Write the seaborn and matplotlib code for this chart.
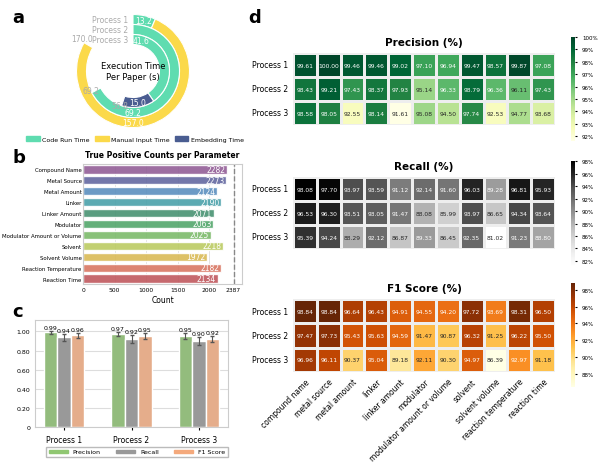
import numpy as np
import pandas as pd
import matplotlib
matplotlib.use("Agg")
import matplotlib.pyplot as plt
import seaborn as sns
from matplotlib.ticker import FuncFormatter
from matplotlib.patches import Patch

processes = ["Process 1", "Process 2", "Process 3"]
code_run = [13.2, 69.2, 41.6]
manual_input = [157.0, 0.0, 0.0]
embedding = [0.0, 0.0, 15.0]
totals = [170.0, 69.2, 56.8]

params_b = ["Compound Name", "Metal Source", "Metal Amount", "Linker", "Linker Amount", "Modulator",
            "Modulator Amount or Volume", "Solvent", "Solvent Volume", "Reaction Temperature", "Reaction Time"]
tp_counts = [2282, 2273, 2124, 2190, 2071, 2063, 2025, 2218, 1972, 2182, 2134]
tp_total = 2387
bar_colors = ["#9b55a0", "#5a5fab", "#4b8fd0", "#3aaeba", "#3c9f74", "#45b467", "#74c85e",
              "#c8dc52", "#f0c640", "#ec6a50", "#d1484f"]

metrics = ["Precision", "Recall", "F1 Score"]
metric_means = {"Precision": [0.99, 0.97, 0.95], "Recall": [0.94, 0.92, 0.90], "F1 Score": [0.96, 0.95, 0.92]}
metric_err = {"Precision": [0.015, 0.02, 0.03], "Recall": [0.035, 0.04, 0.045], "F1 Score": [0.025, 0.03, 0.035]}

params_d = ["compound name", "metal source", "metal amount", "linker", "linker amount", "modulator",
            "modulator amount or volume", "solvent", "solvent volume", "reaction temperature", "reaction time"]
precision = [[99.61, 100.00, 99.46, 99.46, 99.02, 97.10, 96.94, 99.47, 98.57, 99.87, 97.08],
             [98.43, 99.21, 97.43, 98.37, 97.93, 95.14, 96.33, 98.79, 96.36, 96.11, 97.43],
             [98.58, 98.05, 92.55, 98.14, 91.61, 95.08, 94.50, 97.74, 92.53, 94.77, 93.68]]
recall = [[98.08, 97.70, 93.97, 93.59, 91.12, 92.14, 91.60, 96.03, 89.28, 96.81, 95.93],
          [96.53, 96.30, 93.51, 93.05, 91.47, 88.08, 85.99, 93.97, 86.65, 94.34, 93.64],
          [95.39, 94.24, 88.29, 92.12, 86.87, 89.33, 86.45, 92.35, 81.02, 91.23, 88.80]]
f1 = [[98.84, 98.84, 96.64, 96.43, 94.91, 94.55, 94.20, 97.72, 93.69, 98.31, 96.50],
      [97.47, 97.73, 95.43, 95.63, 94.59, 91.47, 90.87, 96.32, 91.25, 96.22, 95.50],
      [96.96, 96.11, 90.37, 95.04, 89.18, 92.11, 90.30, 94.97, 86.39, 92.97, 91.18]]

W, H = 600, 464
fig = plt.figure(figsize=(6, 4.64), dpi=100)
def rect(l, t, r, b):
    return [l / W, 1 - b / H, (r - l) / W, (b - t) / H]

GREEN, YEL, NAVY = "#5fdcb0", "#fbd94a", "#4a5d91"
GREY = "#aaaaaa"

# ---------- panel a ----------
axa = fig.add_axes(rect(76, 15, 190, 129), projection="polar")
axa.set_theta_zero_location("N"); axa.set_theta_direction(-1)
axa.set_ylim(0, 57); axa.axis("off")
radii = [51.5, 41.5, 31.5]
scales = [300 / 170.2, 3.5, 3.5]
for i in range(3):
    k = np.deg2rad(scales[i])
    start = 0
    for val, col in [(code_run[i], GREEN), (manual_input[i], YEL), (embedding[i], NAVY)]:
        if val <= 0:
            continue
        axa.bar(start * k, 10, width=val * k, bottom=radii[i] - 5, align="edge",
                color=col, edgecolor="white", linewidth=0.8)
        if i == 0 and col == YEL:
            pos = np.pi
        elif i == 0:
            pos = (start + val / 2) * k
        elif col == GREEN:
            pos = np.deg2rad(180 if i == 1 else 14)
        else:
            pos = (start + val / 2) * k
        axa.text(pos, radii[i], f"{val:.1f}", color="white", fontsize=5.5, ha="center", va="center")
        start += val
    axa.text(start * k + np.deg2rad(3), radii[i] + (9 if i == 0 else 5), f"{totals[i]:.1f}", color=GREY,
             fontsize=5.5, ha="center", va="center")
    axa.text(0.5 - 5 / 114, 0.5 + radii[i] / 114, processes[i], transform=axa.transAxes, color=GREY,
             fontsize=5.5, ha="right", va="center")
axa.text(0, 0, "Execution Time\nPer Paper (s)", ha="center", va="center", fontsize=6)
fig.legend(handles=[Patch(color=GREEN, label="Code Run Time"), Patch(color=YEL, label="Manual Input Time"),
                    Patch(color=NAVY, label="Embedding Time")], loc="center", bbox_to_anchor=(135 / W, 1 - 140 / H),
           ncol=3, fontsize=4.5, frameon=False, handlelength=2.2, handleheight=0.9, columnspacing=0.8,
           handletextpad=0.4)

# ---------- panel b ----------
axb = fig.add_axes(rect(83, 165, 242, 285))
dfb = pd.DataFrame({"param": params_b, "count": tp_counts})
sns.barplot(data=dfb, y="param", x="count", hue="param", palette=bar_colors, legend=False, ax=axb,
            orient="h", width=0.75, alpha=0.9, edgecolor="white")
for p, v in zip(axb.patches, tp_counts):
    axb.text(v - 25, p.get_y() + p.get_height() / 2, str(v), color="white", fontsize=5.5, ha="right", va="center")
axb.axvline(tp_total, color="#888888", ls="--", lw=1)
axb.set_xlim(0, 2520)
axb.set_xticks([0, 500, 1000, 1500, 2000, tp_total])
axb.tick_params(axis="x", labelsize=4.3, length=0, pad=2)
axb.tick_params(axis="y", labelsize=3.9, length=0, pad=1)
axb.set_ylabel(""); axb.set_xlabel("Count", fontsize=5.5, labelpad=2)
axb.grid(axis="x", color="#dddddd", lw=0.6); axb.set_axisbelow(True)
for s in axb.spines.values():
    s.set_color("#cccccc")
axb.set_title("True Positive Counts per Parameter", fontsize=5.5, fontweight="bold", pad=5)

# ---------- panel c ----------
axc = fig.add_axes(rect(35, 321, 228, 428))
rows = []
for m in metrics:
    for p, v in zip(processes, metric_means[m]):
        rows.append({"process": p, "metric": m, "value": v})
dfc = pd.DataFrame(rows)
cols_c = ["#90c772", "#999999", "#f4a97c"]
sns.barplot(data=dfc, x="process", y="value", hue="metric", palette=cols_c, ax=axc, width=0.6,
            edgecolor="white", legend=False)
for j, m in enumerate(metrics):
    for i in range(3):
        p = axc.patches[j * 3 + i]
        x = p.get_x() + p.get_width() / 2
        v = metric_means[m][i]
        axc.errorbar(x, v, yerr=metric_err[m][i], color="#555555", capsize=1.5, lw=0.8)
        axc.text(x, v + metric_err[m][i] + 0.01, f"{v:.2f}", ha="center", va="bottom", fontsize=4.5)
axc.set_ylim(0, 1.12)
axc.set_yticks([0, 0.2, 0.4, 0.6, 0.8, 1.0])
axc.yaxis.set_major_formatter(FuncFormatter(lambda v, _: "0" if v == 0 else f"{v:.2f}"))
axc.tick_params(axis="y", labelsize=4.5, length=0)
axc.tick_params(axis="x", labelsize=5.5, length=2)
axc.set_xlabel(""); axc.set_ylabel("")
axc.grid(axis="y", color="#dddddd", lw=0.8); axc.set_axisbelow(True)
for s in axc.spines.values():
    s.set_color("#cccccc")
fig.legend(handles=[Patch(color=c, label=m) for c, m in zip(cols_c, metrics)], loc="center",
           bbox_to_anchor=(137 / W, 1 - 453 / H), ncol=3, fontsize=4.5, frameon=True, handlelength=3,
           handleheight=0.5, columnspacing=2.5, fancybox=False, edgecolor="#aaaaaa")

# ---------- panel d ----------
specs = [("Precision (%)", precision, "YlGn", 54, 126, 38, 142, [92, 93, 94, 95, 96, 97, 98, 99, 100]),
         ("Recall (%)", recall, "Greys", 178, 250, 162, 268, [82, 84, 86, 88, 90, 92, 94, 96, 98]),
         ("F1 Score (%)", f1, "YlOrBr", 300, 373, 284, 388, [88, 90, 92, 94, 96, 98])]
for k, (title, data, cmap, t, b, ct, cb, ticks) in enumerate(specs):
    ax = fig.add_axes(rect(293, t, 555, b))
    cax = fig.add_axes(rect(571, ct, 575, cb))
    df = pd.DataFrame(data, index=processes, columns=params_d)
    sns.heatmap(df, ax=ax, cbar_ax=cax, cmap=cmap, annot=True, fmt=".2f", annot_kws={"fontsize": 4.3},
                linewidths=0.8, linecolor="#eeeeee")
    ax.set_title(title, fontsize=7.5, fontweight="bold", pad=6)
    ax.tick_params(length=0, labelsize=5.5)
    ax.set_yticklabels(processes, rotation=0)
    if k < 2:
        ax.set_xticks([])
    else:
        ax.set_xticklabels(params_d, rotation=45, ha="right", rotation_mode="anchor", fontsize=5.5)
    cax.set_yticks(ticks)
    cax.yaxis.set_major_formatter(FuncFormatter(lambda v, _: f"{v:.0f}%"))
    cax.tick_params(labelsize=4, length=1.5)

for lbl, x, y in [("a", 12, 18), ("b", 12, 158), ("c", 12, 312), ("d", 248, 18)]:
    fig.text(x / W, 1 - y / H, lbl, fontsize=13, fontweight="bold", va="center")

fig.savefig("out.png", dpi=100)
